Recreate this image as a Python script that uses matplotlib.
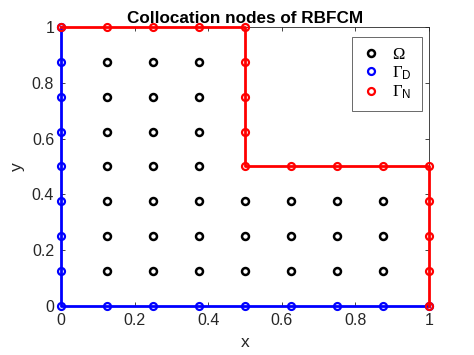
import numpy as np
import matplotlib.pyplot as plt

plt.rcParams['font.family'] = ['Liberation Sans', 'DejaVu Sans']
plt.rcParams['mathtext.fontset'] = 'custom'
plt.rcParams['mathtext.rm'] = 'Liberation Serif'
plt.rcParams['mathtext.it'] = 'Liberation Serif:italic'
plt.rcParams['mathtext.sf'] = 'Liberation Sans'

# interior nodes (Omega)
omega_x = [0.125, 0.25, 0.375, 0.5, 0.625, 0.75, 0.875] * 3 + [0.125, 0.25, 0.375] * 4
omega_y = ([0.125] * 7 + [0.25] * 7 + [0.375] * 7
           + [0.5] * 3 + [0.625] * 3 + [0.75] * 3 + [0.875] * 3)

# Dirichlet boundary: left edge then bottom edge
gd_x = [0, 0, 0, 0, 0, 0, 0, 0, 0, 0.125, 0.25, 0.375, 0.5, 0.625, 0.75, 0.875, 1]
gd_y = [1, 0.875, 0.75, 0.625, 0.5, 0.375, 0.25, 0.125, 0, 0, 0, 0, 0, 0, 0, 0, 0]

# Neumann boundary: top, inner corner, right edge
gn_x = [0, 0.125, 0.25, 0.375, 0.5, 0.5, 0.5, 0.5, 0.5,
        0.625, 0.75, 0.875, 1, 1, 1, 1, 1]
gn_y = [1, 1, 1, 1, 1, 0.875, 0.75, 0.625, 0.5,
        0.5, 0.5, 0.5, 0.5, 0.375, 0.25, 0.125, 0]

fig = plt.figure(figsize=(4.74, 3.55), dpi=100)
ax = fig.add_axes([0.129, 0.138, 0.776, 0.786])

ax.plot(omega_x, omega_y, 'o', color='k', mfc='none', ms=5, mew=1.8, ls='none', label=r'$\Omega$')
ax.plot(gd_x, gd_y, '-o', color='#0000ff', mfc='none', ms=5, mew=1.6, lw=2, label=r'$\Gamma_{\mathsf{D}}$')
ax.plot(gn_x, gn_y, '-o', color='#ff0000', mfc='none', ms=5, mew=1.6, lw=2, label=r'$\Gamma_{\mathsf{N}}$')

ax.set_xlim(0, 1)
ax.set_ylim(0, 1)
ax.set_xticks(np.arange(0, 1.01, 0.2))
ax.set_yticks(np.arange(0, 1.01, 0.2))
ax.set_xticklabels(['0', '0.2', '0.4', '0.6', '0.8', '1'])
ax.set_yticklabels(['0', '0.2', '0.4', '0.6', '0.8', '1'])
ax.tick_params(direction='in', top=True, right=True, labelsize=11.5,
               colors='#262626', length=3, width=0.6, pad=5)
for s in ax.spines.values():
    s.set_color('#262626')
    s.set_linewidth(0.6)

ax.set_xlabel('x', fontsize=12.5, color='#262626', labelpad=5)
ax.set_ylabel('y', fontsize=12.5, color='#262626', labelpad=5)
ax.set_title('Collocation nodes of RBFCM', fontsize=12.3, fontweight='bold', pad=3)

leg = ax.legend(loc='upper right', fontsize=12, frameon=True, fancybox=False,
                edgecolor='#262626', handlelength=1.0, handletextpad=0.8,
                borderpad=0.6, labelspacing=0.12, borderaxespad=0.2,
                bbox_to_anchor=(0.99, 0.975))
leg.get_frame().set_linewidth(0.6)
for h in leg.legend_handles:
    h.set_linestyle('none')

for s in ax.spines.values():
    s.set_zorder(0.5)
for ln in ax.lines:
    ln.set_clip_on(False)

fig.savefig('out.png', dpi=100)
